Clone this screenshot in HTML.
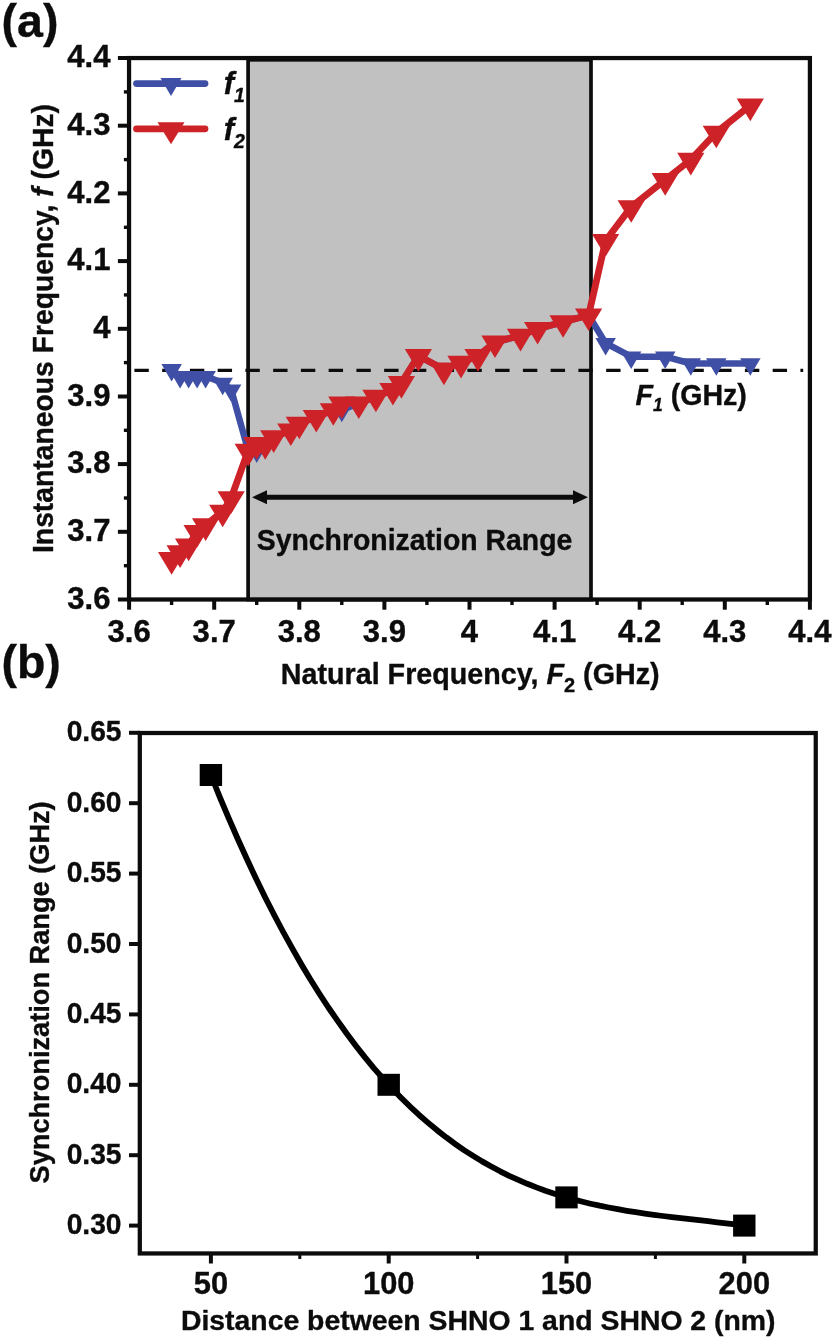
<!DOCTYPE html>
<html lang="en"><head><meta charset="utf-8"><title>Figure</title>
<style>html,body{margin:0;padding:0;background:#fff}svg{display:block}text{stroke:#0c0c0c;stroke-width:.35px;stroke-linejoin:round}</style></head>
<body>
<svg width="834" height="1338" viewBox="0 0 834 1338" font-family='"Liberation Sans", sans-serif' font-weight="bold" fill="#0c0c0c">
<rect width="834" height="1338" fill="#ffffff"/>
<rect x="248.1" y="59.8" width="342.9" height="539.8" fill="#c1c1c1" stroke="#0c0c0c" stroke-width="3.7"/>
<line x1="134.4" y1="370.4" x2="803.2" y2="370.4" stroke="#0c0c0c" stroke-width="3.2" stroke-dasharray="14.4 13.35"/>
<polyline points="171.6,369.4 180.1,376.2 188.6,376.2 197.1,376.2 205.6,376.2 222.7,382.9 231.2,389.7 248.2,450.6 256.7,450.6 265.2,443.8 273.7,437.1 290.8,430.3 299.3,423.5 316.3,416.8 333.3,410.0 341.8,410.0 358.8,403.2 375.9,396.5 392.9,389.7 401.4,382.9 418.4,355.8 443.9,369.4 461.0,362.6 478.0,355.8 495.0,342.3 520.5,335.5 537.6,328.8 563.1,322.0 588.6,315.2 605.6,343.2 631.2,356.7 665.2,356.7 690.8,363.5 716.3,363.5 750.3,363.5" fill="none" stroke="#3f4fa5" stroke-width="6.5" stroke-linejoin="round" stroke-linecap="round"/>
<polygon points="161.4,364.1 181.9,364.1 171.6,381.6" fill="#3f4fa5"/>
<polygon points="169.9,370.9 190.4,370.9 180.1,388.4" fill="#3f4fa5"/>
<polygon points="178.4,370.9 198.9,370.9 188.6,388.4" fill="#3f4fa5"/>
<polygon points="186.9,370.9 207.4,370.9 197.1,388.4" fill="#3f4fa5"/>
<polygon points="195.4,370.9 215.9,370.9 205.6,388.4" fill="#3f4fa5"/>
<polygon points="212.4,377.7 232.9,377.7 222.7,395.2" fill="#3f4fa5"/>
<polygon points="220.9,384.4 241.4,384.4 231.2,401.9" fill="#3f4fa5"/>
<polygon points="237.9,445.4 258.4,445.4 248.2,462.9" fill="#3f4fa5"/>
<polygon points="246.5,445.4 267.0,445.4 256.7,462.9" fill="#3f4fa5"/>
<polygon points="255.0,438.6 275.5,438.6 265.2,456.1" fill="#3f4fa5"/>
<polygon points="263.5,431.8 284.0,431.8 273.7,449.3" fill="#3f4fa5"/>
<polygon points="280.5,425.0 301.0,425.0 290.8,442.5" fill="#3f4fa5"/>
<polygon points="289.0,418.3 309.5,418.3 299.3,435.8" fill="#3f4fa5"/>
<polygon points="306.0,411.5 326.5,411.5 316.3,429.0" fill="#3f4fa5"/>
<polygon points="323.1,404.7 343.6,404.7 333.3,422.2" fill="#3f4fa5"/>
<polygon points="331.6,404.7 352.1,404.7 341.8,422.2" fill="#3f4fa5"/>
<polygon points="348.6,398.0 369.1,398.0 358.8,415.5" fill="#3f4fa5"/>
<polygon points="365.6,391.2 386.1,391.2 375.9,408.7" fill="#3f4fa5"/>
<polygon points="382.6,384.4 403.1,384.4 392.9,401.9" fill="#3f4fa5"/>
<polygon points="391.1,377.7 411.6,377.7 401.4,395.2" fill="#3f4fa5"/>
<polygon points="408.2,350.6 428.7,350.6 418.4,368.1" fill="#3f4fa5"/>
<polygon points="433.7,364.1 454.2,364.1 443.9,381.6" fill="#3f4fa5"/>
<polygon points="450.7,357.4 471.2,357.4 461.0,374.9" fill="#3f4fa5"/>
<polygon points="467.7,350.6 488.2,350.6 478.0,368.1" fill="#3f4fa5"/>
<polygon points="484.8,337.1 505.3,337.1 495.0,354.6" fill="#3f4fa5"/>
<polygon points="510.3,330.3 530.8,330.3 520.5,347.8" fill="#3f4fa5"/>
<polygon points="527.3,323.5 547.8,323.5 537.6,341.0" fill="#3f4fa5"/>
<polygon points="552.8,316.8 573.3,316.8 563.1,334.3" fill="#3f4fa5"/>
<polygon points="578.4,310.0 598.9,310.0 588.6,327.5" fill="#3f4fa5"/>
<polygon points="595.4,338.0 615.9,338.0 605.6,355.5" fill="#3f4fa5"/>
<polygon points="620.9,351.5 641.4,351.5 631.2,369.0" fill="#3f4fa5"/>
<polygon points="655.0,351.5 675.5,351.5 665.2,369.0" fill="#3f4fa5"/>
<polygon points="680.5,358.3 701.0,358.3 690.8,375.8" fill="#3f4fa5"/>
<polygon points="706.0,358.3 726.5,358.3 716.3,375.8" fill="#3f4fa5"/>
<polygon points="740.1,358.3 760.6,358.3 750.3,375.8" fill="#3f4fa5"/>
<polyline points="171.6,558.9 180.1,552.1 188.6,545.4 197.1,531.8 205.6,525.1 222.7,511.5 231.2,498.0 248.2,450.6 256.7,443.8 265.2,443.8 273.7,437.1 290.8,430.3 299.3,423.5 316.3,416.8 333.3,410.0 341.8,403.2 358.8,403.2 375.9,396.5 392.9,389.7 401.4,382.9 418.4,355.8 443.9,369.4 461.0,362.6 478.0,355.8 495.0,342.3 520.5,335.5 537.6,328.8 563.1,322.0 588.6,315.2 605.6,240.8 631.2,206.9 665.2,179.9 690.8,159.6 716.3,132.5 750.3,105.4" fill="none" stroke="#ce2229" stroke-width="6.8" stroke-linejoin="round" stroke-linecap="round"/>
<polygon points="158.0,552.1 185.2,552.1 171.6,574.7" fill="#ce2229"/>
<polygon points="166.5,545.3 193.7,545.3 180.1,567.9" fill="#ce2229"/>
<polygon points="175.0,538.6 202.2,538.6 188.6,561.2" fill="#ce2229"/>
<polygon points="183.5,525.0 210.7,525.0 197.1,547.6" fill="#ce2229"/>
<polygon points="192.0,518.3 219.2,518.3 205.6,540.9" fill="#ce2229"/>
<polygon points="209.1,504.7 236.3,504.7 222.7,527.3" fill="#ce2229"/>
<polygon points="217.6,491.2 244.8,491.2 231.2,513.8" fill="#ce2229"/>
<polygon points="234.6,443.8 261.8,443.8 248.2,466.4" fill="#ce2229"/>
<polygon points="243.1,437.1 270.3,437.1 256.7,459.7" fill="#ce2229"/>
<polygon points="251.6,437.1 278.8,437.1 265.2,459.7" fill="#ce2229"/>
<polygon points="260.1,430.3 287.3,430.3 273.7,452.9" fill="#ce2229"/>
<polygon points="277.2,423.5 304.4,423.5 290.8,446.1" fill="#ce2229"/>
<polygon points="285.7,416.7 312.9,416.7 299.3,439.3" fill="#ce2229"/>
<polygon points="302.7,410.0 329.9,410.0 316.3,432.6" fill="#ce2229"/>
<polygon points="319.7,403.2 346.9,403.2 333.3,425.8" fill="#ce2229"/>
<polygon points="328.2,396.4 355.4,396.4 341.8,419.0" fill="#ce2229"/>
<polygon points="345.2,396.4 372.4,396.4 358.8,419.0" fill="#ce2229"/>
<polygon points="362.3,389.7 389.5,389.7 375.9,412.3" fill="#ce2229"/>
<polygon points="379.3,382.9 406.5,382.9 392.9,405.5" fill="#ce2229"/>
<polygon points="387.8,376.1 415.0,376.1 401.4,398.7" fill="#ce2229"/>
<polygon points="404.8,349.1 432.0,349.1 418.4,371.7" fill="#ce2229"/>
<polygon points="430.3,362.6 457.5,362.6 443.9,385.2" fill="#ce2229"/>
<polygon points="447.4,355.8 474.6,355.8 461.0,378.4" fill="#ce2229"/>
<polygon points="464.4,349.1 491.6,349.1 478.0,371.7" fill="#ce2229"/>
<polygon points="481.4,335.5 508.6,335.5 495.0,358.1" fill="#ce2229"/>
<polygon points="506.9,328.8 534.1,328.8 520.5,351.4" fill="#ce2229"/>
<polygon points="524.0,322.0 551.2,322.0 537.6,344.6" fill="#ce2229"/>
<polygon points="549.5,315.2 576.7,315.2 563.1,337.8" fill="#ce2229"/>
<polygon points="575.0,308.5 602.2,308.5 588.6,331.1" fill="#ce2229"/>
<polygon points="592.0,234.0 619.2,234.0 605.6,256.6" fill="#ce2229"/>
<polygon points="617.6,200.2 644.8,200.2 631.2,222.8" fill="#ce2229"/>
<polygon points="651.6,173.1 678.8,173.1 665.2,195.7" fill="#ce2229"/>
<polygon points="677.2,152.8 704.4,152.8 690.8,175.4" fill="#ce2229"/>
<polygon points="702.7,125.7 729.9,125.7 716.3,148.3" fill="#ce2229"/>
<polygon points="736.7,98.6 763.9,98.6 750.3,121.2" fill="#ce2229"/>
<rect x="129.05" y="58.05" width="680.8499999999999" height="541.45" fill="none" stroke="#0c0c0c" stroke-width="4.25"/>
<line x1="129.1" y1="599.5" x2="129.1" y2="609.7" stroke="#0c0c0c" stroke-width="4"/>
<line x1="129.05" y1="599.5" x2="117.9" y2="599.5" stroke="#0c0c0c" stroke-width="4"/>
<text transform="translate(129.1,641.6) scale(1.11,1.12)" font-size="28" text-anchor="middle" >3.6</text>
<text transform="translate(110.5,608.8) scale(1.11,1.09)" font-size="28" text-anchor="end" >3.6</text>
<line x1="171.6" y1="599.5" x2="171.6" y2="605.0" stroke="#0c0c0c" stroke-width="3.4"/>
<line x1="129.05" y1="565.7" x2="123.9" y2="565.7" stroke="#0c0c0c" stroke-width="3.4"/>
<line x1="214.2" y1="599.5" x2="214.2" y2="609.7" stroke="#0c0c0c" stroke-width="4"/>
<line x1="129.05" y1="531.8" x2="117.9" y2="531.8" stroke="#0c0c0c" stroke-width="4"/>
<text transform="translate(214.2,641.6) scale(1.11,1.12)" font-size="28" text-anchor="middle" >3.7</text>
<text transform="translate(110.5,541.1) scale(1.11,1.09)" font-size="28" text-anchor="end" >3.7</text>
<line x1="256.7" y1="599.5" x2="256.7" y2="605.0" stroke="#0c0c0c" stroke-width="3.4"/>
<line x1="129.05" y1="498.0" x2="123.9" y2="498.0" stroke="#0c0c0c" stroke-width="3.4"/>
<line x1="299.3" y1="599.5" x2="299.3" y2="609.7" stroke="#0c0c0c" stroke-width="4"/>
<line x1="129.05" y1="464.1" x2="117.9" y2="464.1" stroke="#0c0c0c" stroke-width="4"/>
<text transform="translate(299.3,641.6) scale(1.11,1.12)" font-size="28" text-anchor="middle" >3.8</text>
<text transform="translate(110.5,473.4) scale(1.11,1.09)" font-size="28" text-anchor="end" >3.8</text>
<line x1="341.8" y1="599.5" x2="341.8" y2="605.0" stroke="#0c0c0c" stroke-width="3.4"/>
<line x1="129.05" y1="430.3" x2="123.9" y2="430.3" stroke="#0c0c0c" stroke-width="3.4"/>
<line x1="384.4" y1="599.5" x2="384.4" y2="609.7" stroke="#0c0c0c" stroke-width="4"/>
<line x1="129.05" y1="396.5" x2="117.9" y2="396.5" stroke="#0c0c0c" stroke-width="4"/>
<text transform="translate(384.4,641.6) scale(1.11,1.12)" font-size="28" text-anchor="middle" >3.9</text>
<text transform="translate(110.5,405.8) scale(1.11,1.09)" font-size="28" text-anchor="end" >3.9</text>
<line x1="426.9" y1="599.5" x2="426.9" y2="605.0" stroke="#0c0c0c" stroke-width="3.4"/>
<line x1="129.05" y1="362.6" x2="123.9" y2="362.6" stroke="#0c0c0c" stroke-width="3.4"/>
<line x1="469.5" y1="599.5" x2="469.5" y2="609.7" stroke="#0c0c0c" stroke-width="4"/>
<line x1="129.05" y1="328.8" x2="117.9" y2="328.8" stroke="#0c0c0c" stroke-width="4"/>
<text transform="translate(469.5,641.6) scale(1.11,1.12)" font-size="28" text-anchor="middle" >4</text>
<text transform="translate(110.5,338.1) scale(1.11,1.09)" font-size="28" text-anchor="end" >4</text>
<line x1="512.0" y1="599.5" x2="512.0" y2="605.0" stroke="#0c0c0c" stroke-width="3.4"/>
<line x1="129.05" y1="294.9" x2="123.9" y2="294.9" stroke="#0c0c0c" stroke-width="3.4"/>
<line x1="554.6" y1="599.5" x2="554.6" y2="609.7" stroke="#0c0c0c" stroke-width="4"/>
<line x1="129.05" y1="261.1" x2="117.9" y2="261.1" stroke="#0c0c0c" stroke-width="4"/>
<text transform="translate(554.6,641.6) scale(1.11,1.12)" font-size="28" text-anchor="middle" >4.1</text>
<text transform="translate(110.5,270.4) scale(1.11,1.09)" font-size="28" text-anchor="end" >4.1</text>
<line x1="597.1" y1="599.5" x2="597.1" y2="605.0" stroke="#0c0c0c" stroke-width="3.4"/>
<line x1="129.05" y1="227.3" x2="123.9" y2="227.3" stroke="#0c0c0c" stroke-width="3.4"/>
<line x1="639.7" y1="599.5" x2="639.7" y2="609.7" stroke="#0c0c0c" stroke-width="4"/>
<line x1="129.05" y1="193.4" x2="117.9" y2="193.4" stroke="#0c0c0c" stroke-width="4"/>
<text transform="translate(639.7,641.6) scale(1.11,1.12)" font-size="28" text-anchor="middle" >4.2</text>
<text transform="translate(110.5,202.7) scale(1.11,1.09)" font-size="28" text-anchor="end" >4.2</text>
<line x1="682.2" y1="599.5" x2="682.2" y2="605.0" stroke="#0c0c0c" stroke-width="3.4"/>
<line x1="129.05" y1="159.6" x2="123.9" y2="159.6" stroke="#0c0c0c" stroke-width="3.4"/>
<line x1="724.8" y1="599.5" x2="724.8" y2="609.7" stroke="#0c0c0c" stroke-width="4"/>
<line x1="129.05" y1="125.7" x2="117.9" y2="125.7" stroke="#0c0c0c" stroke-width="4"/>
<text transform="translate(724.8,641.6) scale(1.11,1.12)" font-size="28" text-anchor="middle" >4.3</text>
<text transform="translate(110.5,135.0) scale(1.11,1.09)" font-size="28" text-anchor="end" >4.3</text>
<line x1="767.3" y1="599.5" x2="767.3" y2="605.0" stroke="#0c0c0c" stroke-width="3.4"/>
<line x1="129.05" y1="91.9" x2="123.9" y2="91.9" stroke="#0c0c0c" stroke-width="3.4"/>
<line x1="809.9" y1="599.5" x2="809.9" y2="609.7" stroke="#0c0c0c" stroke-width="4"/>
<line x1="129.05" y1="58.0" x2="117.9" y2="58.0" stroke="#0c0c0c" stroke-width="4"/>
<text transform="translate(809.9,641.6) scale(1.11,1.12)" font-size="28" text-anchor="middle" >4.4</text>
<text transform="translate(110.5,67.3) scale(1.11,1.09)" font-size="28" text-anchor="end" >4.4</text>
<text transform="translate(1.6,36.6) scale(1.0,0.985)" font-size="46.5" text-anchor="start" >(a)</text>
<text transform="translate(470.2,684.3) scale(1.0,1.04)" font-size="28.7" text-anchor="middle" >Natural Frequency, <tspan font-style="italic">F</tspan><tspan font-size="20" dy="7.5">2</tspan><tspan dy="-7.5"> (GHz)</tspan></text>
<text transform="translate(53.0,328.5) rotate(-90) scale(1.0,1.04)" font-size="28.3" text-anchor="middle" >Instantaneous Frequency, <tspan font-style="italic">f</tspan> (GHz)</text>
<line x1="136.5" y1="83.6" x2="205" y2="83.6" stroke="#3f4fa5" stroke-width="6.8" stroke-linecap="round"/>
<polygon points="160.5,78.1 181.5,78.1 171.0,96.1" fill="#3f4fa5"/>
<line x1="136.5" y1="128.8" x2="205" y2="128.8" stroke="#ce2229" stroke-width="6.8" stroke-linecap="round"/>
<polygon points="157.5,122.2 184.5,122.2 171.0,144.2" fill="#ce2229"/>
<text transform="translate(223.8,94.4) scale(1.0,1.04)" font-size="31" text-anchor="start" ><tspan font-style="italic">f</tspan><tspan font-style="italic" font-size="19.5" dy="7.5">1</tspan></text>
<text transform="translate(223.8,139.7) scale(1.0,1.04)" font-size="31" text-anchor="start" ><tspan font-style="italic">f</tspan><tspan font-style="italic" font-size="19.5" dy="7.5">2</tspan></text>
<line x1="262" y1="497.3" x2="578" y2="497.3" stroke="#0c0c0c" stroke-width="5"/>
<polygon points="252,497.3 267,490.3 267,504.3" fill="#0c0c0c"/>
<polygon points="588,497.3 573,490.3 573,504.3" fill="#0c0c0c"/>
<text transform="translate(414.5,549.6) scale(1.0,1.04)" font-size="28.4" text-anchor="middle" >Synchronization Range</text>
<text transform="translate(635.5,404.6) scale(1.0,1.04)" font-size="28.6" text-anchor="start" ><tspan font-style="italic">F</tspan><tspan font-style="italic" font-size="17.5" dy="6.5">1</tspan><tspan dy="-6.5"> (GHz)</tspan></text>
<text transform="translate(1.4,677.9) scale(1.0,0.985)" font-size="46.5" text-anchor="start" >(b)</text>
<polyline points="210.9,775.0 219.9,797.3 229.0,818.8 238.0,839.5 247.1,859.5 256.1,878.7 265.1,897.2 274.2,915.0 283.2,932.0 292.3,948.4 301.3,964.2 310.3,979.3 319.4,993.7 328.4,1007.5 337.5,1020.7 346.5,1033.3 355.6,1045.4 364.6,1056.9 373.6,1067.8 382.7,1078.2 391.7,1088.0 400.8,1097.4 409.8,1106.3 418.8,1114.7 427.9,1122.6 436.9,1130.1 446.0,1137.2 455.0,1143.8 464.0,1150.1 473.1,1155.9 482.1,1161.4 491.2,1166.5 500.2,1171.3 509.2,1175.8 518.3,1179.9 527.3,1183.8 536.4,1187.4 545.4,1190.7 554.4,1193.7 563.5,1196.5 572.5,1199.1 581.6,1201.5 590.6,1203.7 599.6,1205.7 608.7,1207.5 617.7,1209.2 626.8,1210.8 635.8,1212.2 644.9,1213.6 653.9,1214.8 662.9,1216.0 672.0,1217.1 681.0,1218.2 690.1,1219.2 699.1,1220.2 708.1,1221.2 717.2,1222.3 726.2,1223.3 735.3,1224.4 744.3,1225.6" fill="none" stroke="#000" stroke-width="5.8" stroke-linejoin="round"/>
<rect x="199.7" y="764.0" width="22.4" height="22" fill="#000"/>
<rect x="377.5" y="1073.8" width="22.4" height="22" fill="#000"/>
<rect x="555.3" y="1186.4" width="22.4" height="22" fill="#000"/>
<rect x="733.1" y="1214.6" width="22.4" height="22" fill="#000"/>
<rect x="139.8" y="733.0" width="675.95" height="520.45" fill="none" stroke="#0c0c0c" stroke-width="4.25"/>
<line x1="139.8" y1="1225.6" x2="129.0" y2="1225.6" stroke="#0c0c0c" stroke-width="4"/>
<text transform="translate(121.5,1234.2) scale(1.025,1.04)" font-size="27.5" text-anchor="end" >0.30</text>
<line x1="139.8" y1="1155.2" x2="129.0" y2="1155.2" stroke="#0c0c0c" stroke-width="4"/>
<text transform="translate(121.5,1163.8) scale(1.025,1.04)" font-size="27.5" text-anchor="end" >0.35</text>
<line x1="139.8" y1="1084.8" x2="129.0" y2="1084.8" stroke="#0c0c0c" stroke-width="4"/>
<text transform="translate(121.5,1093.4) scale(1.025,1.04)" font-size="27.5" text-anchor="end" >0.40</text>
<line x1="139.8" y1="1014.4" x2="129.0" y2="1014.4" stroke="#0c0c0c" stroke-width="4"/>
<text transform="translate(121.5,1023.0) scale(1.025,1.04)" font-size="27.5" text-anchor="end" >0.45</text>
<line x1="139.8" y1="944.0" x2="129.0" y2="944.0" stroke="#0c0c0c" stroke-width="4"/>
<text transform="translate(121.5,952.6) scale(1.025,1.04)" font-size="27.5" text-anchor="end" >0.50</text>
<line x1="139.8" y1="873.6" x2="129.0" y2="873.6" stroke="#0c0c0c" stroke-width="4"/>
<text transform="translate(121.5,882.2) scale(1.025,1.04)" font-size="27.5" text-anchor="end" >0.55</text>
<line x1="139.8" y1="803.2" x2="129.0" y2="803.2" stroke="#0c0c0c" stroke-width="4"/>
<text transform="translate(121.5,811.8) scale(1.025,1.04)" font-size="27.5" text-anchor="end" >0.60</text>
<line x1="139.8" y1="732.8" x2="129.0" y2="732.8" stroke="#0c0c0c" stroke-width="4"/>
<text transform="translate(121.5,741.4) scale(1.025,1.04)" font-size="27.5" text-anchor="end" >0.65</text>
<line x1="210.9" y1="1253.45" x2="210.9" y2="1263.5" stroke="#0c0c0c" stroke-width="4"/>
<text transform="translate(210.9,1294.0) scale(1.025,1.04)" font-size="30.1" text-anchor="middle" >50</text>
<line x1="388.7" y1="1253.45" x2="388.7" y2="1263.5" stroke="#0c0c0c" stroke-width="4"/>
<text transform="translate(388.7,1294.0) scale(1.025,1.04)" font-size="30.1" text-anchor="middle" >100</text>
<line x1="566.5" y1="1253.45" x2="566.5" y2="1263.5" stroke="#0c0c0c" stroke-width="4"/>
<text transform="translate(566.5,1294.0) scale(1.025,1.04)" font-size="30.1" text-anchor="middle" >150</text>
<line x1="744.3" y1="1253.45" x2="744.3" y2="1263.5" stroke="#0c0c0c" stroke-width="4"/>
<text transform="translate(744.3,1294.0) scale(1.025,1.04)" font-size="30.1" text-anchor="middle" >200</text>
<line x1="299.8" y1="1253.45" x2="299.8" y2="1259.0" stroke="#0c0c0c" stroke-width="3"/>
<line x1="477.6" y1="1253.45" x2="477.6" y2="1259.0" stroke="#0c0c0c" stroke-width="3"/>
<line x1="655.4" y1="1253.45" x2="655.4" y2="1259.0" stroke="#0c0c0c" stroke-width="3"/>
<text transform="translate(478.2,1330.3) scale(1.0,0.955)" font-size="28.4" text-anchor="middle" >Distance between SHNO 1 and SHNO 2 (nm)</text>
<text transform="translate(49.2,992.4) rotate(-90) scale(1.0,1.04)" font-size="27.2" text-anchor="middle" >Synchronization Range (GHz)</text>
</svg>
</body></html>
